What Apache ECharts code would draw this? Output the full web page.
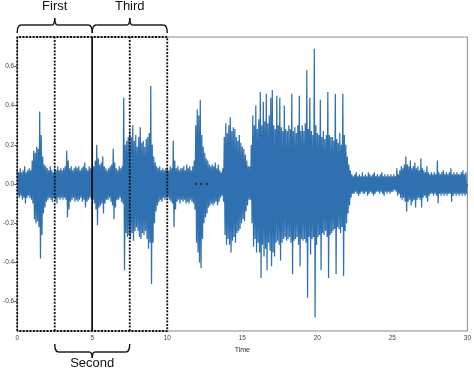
<!DOCTYPE html>
<html>
<head>
<meta charset="utf-8">
<script src="https://cdn.jsdelivr.net/npm/echarts@6/dist/echarts.min.js"></script>
<style>html,body{margin:0;padding:0;background:#fff}#c{width:474px;height:369px}</style>
</head>
<body>
<div id="c"></div>
<script>
// envelope of the waveform, one value per 0.1 s bin (upper = positive peak, lower = negative peak magnitude)
const binStep = 0.1;
const upper = [
0.07,0.06,0.08,0.06,0.07,0.09,0.06,0.07,0.08,0.07,
0.12,0.17,0.16,0.19,0.18,0.37,0.25,0.14,0.10,0.09,
0.08,0.07,0.09,0.07,0.06,0.08,0.07,0.09,0.07,0.08,
0.07,0.08,0.09,0.17,0.12,0.08,0.09,0.07,0.08,0.09,
0.08,0.09,0.07,0.08,0.09,0.11,0.08,0.07,0.09,0.08,
0.08,0.09,0.12,0.20,0.13,0.10,0.11,0.14,0.09,0.08,
0.07,0.08,0.09,0.10,0.18,0.11,0.08,0.07,0.09,0.08,
0.09,0.44,0.20,0.22,0.24,0.27,0.24,0.30,0.22,0.25,
0.19,0.24,0.29,0.21,0.22,0.19,0.23,0.24,0.26,0.50,
0.20,0.14,0.11,0.09,0.08,0.09,0.07,0.08,0.07,0.08,
0.08,0.07,0.09,0.08,0.22,0.12,0.08,0.09,0.07,0.08,
0.08,0.09,0.07,0.10,0.08,0.09,0.07,0.09,0.12,0.30,
0.38,0.35,0.43,0.25,0.19,0.16,0.13,0.12,0.10,0.09,
0.10,0.09,0.11,0.08,0.10,0.07,0.06,0.08,0.24,0.31,
0.26,0.30,0.34,0.27,0.29,0.28,0.24,0.22,0.25,0.21,
0.19,0.18,0.15,0.12,0.09,0.09,0.20,0.35,0.30,0.40,
0.28,0.33,0.47,0.30,0.42,0.32,0.46,0.31,0.35,0.44,
0.48,0.30,0.28,0.45,0.30,0.44,0.29,0.27,0.40,0.28,
0.27,0.30,0.28,0.46,0.27,0.29,0.26,0.30,0.45,0.27,
0.30,0.27,0.31,0.58,0.28,0.44,0.27,0.25,0.69,0.30,
0.26,0.25,0.43,0.24,0.27,0.23,0.25,0.47,0.25,0.24,
0.24,0.22,0.46,0.23,0.21,0.26,0.20,0.46,0.25,0.20,
0.14,0.10,0.07,0.05,0.04,0.05,0.06,0.04,0.05,0.04,
0.06,0.04,0.05,0.04,0.06,0.05,0.04,0.05,0.06,0.04,
0.05,0.04,0.05,0.06,0.04,0.05,0.04,0.05,0.04,0.05,
0.04,0.05,0.04,0.08,0.05,0.07,0.09,0.08,0.10,0.14,
0.10,0.09,0.12,0.08,0.09,0.11,0.08,0.09,0.07,0.13,
0.08,0.07,0.06,0.09,0.06,0.05,0.06,0.05,0.06,0.05,
0.12,0.06,0.05,0.06,0.07,0.05,0.06,0.05,0.06,0.08,
0.05,0.06,0.05,0.06,0.05,0.05,0.06,0.07,0.05,0.06
];
const lower = [
0.06,0.07,0.06,0.08,0.07,0.10,0.07,0.06,0.07,0.08,
0.10,0.18,0.20,0.19,0.22,0.38,0.26,0.15,0.12,0.09,
0.08,0.07,0.08,0.09,0.07,0.08,0.10,0.07,0.08,0.07,
0.08,0.07,0.08,0.17,0.13,0.09,0.08,0.07,0.09,0.08,
0.09,0.08,0.07,0.09,0.08,0.12,0.09,0.08,0.07,0.08,
0.08,0.10,0.13,0.21,0.12,0.11,0.10,0.15,0.10,0.08,
0.08,0.07,0.09,0.11,0.18,0.12,0.08,0.08,0.07,0.09,
0.10,0.44,0.25,0.27,0.26,0.28,0.25,0.29,0.24,0.22,
0.24,0.27,0.28,0.25,0.26,0.24,0.28,0.33,0.30,0.51,
0.30,0.20,0.14,0.11,0.09,0.08,0.09,0.07,0.08,0.07,
0.07,0.08,0.09,0.10,0.22,0.13,0.09,0.08,0.10,0.08,
0.09,0.08,0.10,0.09,0.10,0.08,0.09,0.10,0.13,0.30,
0.35,0.40,0.43,0.28,0.20,0.17,0.15,0.12,0.11,0.10,
0.11,0.10,0.09,0.11,0.09,0.07,0.06,0.09,0.26,0.31,
0.28,0.31,0.35,0.29,0.27,0.30,0.25,0.24,0.23,0.20,
0.18,0.19,0.14,0.11,0.08,0.08,0.20,0.32,0.28,0.35,
0.30,0.35,0.48,0.31,0.37,0.33,0.44,0.30,0.34,0.42,
0.35,0.37,0.30,0.29,0.31,0.39,0.30,0.28,0.27,0.29,
0.28,0.27,0.30,0.46,0.29,0.28,0.27,0.31,0.42,0.28,
0.29,0.28,0.30,0.58,0.27,0.36,0.28,0.27,0.68,0.31,
0.27,0.26,0.44,0.25,0.26,0.24,0.27,0.48,0.26,0.25,
0.24,0.23,0.46,0.22,0.23,0.25,0.22,0.47,0.24,0.20,
0.15,0.11,0.07,0.05,0.05,0.04,0.05,0.06,0.05,0.04,
0.05,0.05,0.04,0.06,0.05,0.04,0.05,0.06,0.05,0.04,
0.04,0.05,0.04,0.05,0.06,0.04,0.05,0.04,0.05,0.04,
0.04,0.03,0.04,0.06,0.05,0.07,0.08,0.07,0.09,0.14,
0.09,0.08,0.11,0.09,0.08,0.12,0.08,0.07,0.08,0.12,
0.07,0.06,0.07,0.09,0.06,0.05,0.05,0.06,0.05,0.06,
0.10,0.05,0.06,0.05,0.06,0.05,0.06,0.05,0.05,0.09,
0.06,0.05,0.06,0.05,0.06,0.05,0.06,0.05,0.06,0.05
];
const xTicks = [0, 5, 10, 15, 20, 25, 30];
const yTicks = [-0.6, -0.4, -0.2, 0.0, 0.2, 0.4, 0.6];
const yRange = [-0.75, 0.75];
const windows = [
  {name: 'First', start: 0, end: 5, side: 'top'},
  {name: 'Second', start: 2.5, end: 7.5, side: 'bottom'},
  {name: 'Third', start: 5, end: 10, side: 'top'}
];
const ellipsisTimes = [11.92, 12.26, 12.63];

const wave = [];
for (let i = 0; i < upper.length; i++) {
  wave.push([i * binStep, upper[i]]);
  wave.push([i * binStep + binStep / 2, -lower[i]]);
}

const chart = echarts.init(document.getElementById('c'), null, {renderer: 'canvas'});
const frameStyle = {color: '#111', width: 1.8, type: [2, 1.4]};
const frameSeries = [];
const outerStart = Math.min(...windows.map(w => w.start));
const outerEnd = Math.max(...windows.map(w => w.end));
frameSeries.push({
  type: 'line', silent: true, symbol: 'none', z: 5, clip: false,
  lineStyle: frameStyle,
  data: [[outerStart, yRange[0]], [outerStart, yRange[1]], [outerEnd, yRange[1]], [outerEnd, yRange[0]], [outerStart, yRange[0]]]
});
windows.forEach(w => {
  [w.start, w.end].forEach(t => {
    if (t === outerStart || t === outerEnd) return;
    const shared = windows.filter(o => o.start === t || o.end === t).length > 1;
    frameSeries.push({
      type: 'line', silent: true, symbol: 'none', z: 5, clip: false,
      lineStyle: shared ? {color: '#111', width: 1.5, type: 'solid'} : frameStyle,
      data: [[t, yRange[0]], [t, yRange[1]]]
    });
  });
});

chart.setOption({
  animation: false,
  backgroundColor: '#fff',
  grid: {left: 17, right: 5, top: 37, bottom: 38, show: true, borderColor: '#8a8a8a', borderWidth: 1},
  xAxis: {
    type: 'value', min: 0, max: 30, interval: 5,
    name: 'Time', nameLocation: 'middle', nameGap: 15,
    nameTextStyle: {fontSize: 7, color: '#333', fontFamily: 'Liberation Sans'},
    axisLine: {show: true, lineStyle: {color: '#8a8a8a'}},
    axisTick: {show: true, length: 3, lineStyle: {color: '#666'}},
    axisLabel: {fontSize: 6.5, color: '#444', margin: 4, fontFamily: 'Liberation Sans', formatter: v => String(v)},
    splitLine: {show: false}
  },
  yAxis: {
    type: 'value', min: yRange[0], max: yRange[1],
    axisLine: {show: true, lineStyle: {color: '#8a8a8a'}},
    axisTick: {show: true, length: 3, customValues: yTicks, lineStyle: {color: '#666'}},
    axisLabel: {fontSize: 6.5, color: '#444', margin: 3, fontFamily: 'Liberation Sans', customValues: yTicks, formatter: v => v.toFixed(1)},
    splitLine: {show: false}
  },
  series: [
    {
      type: 'line', name: 'wave', data: wave, symbol: 'none', sampling: null,
      lineStyle: {color: '#2f70b0', width: 1.25}, z: 2, silent: true
    },
    ...frameSeries,
    {
      type: 'scatter', data: ellipsisTimes.map(t => [t, 0]), symbol: 'circle', symbolSize: 2.4,
      itemStyle: {color: '#1b2330'}, z: 6, silent: true
    }
  ]
});

// braces with labels
const graphics = [];
const gridTopPx = chart.convertToPixel({gridIndex: 0}, [0, yRange[1]])[1];
const gridBotPx = chart.convertToPixel({gridIndex: 0}, [0, yRange[0]])[1];
const braceStyle = {stroke: '#111', lineWidth: 1.4, fill: null};
function curve(x1, y1, x2, y2, cx, cy) {
  graphics.push({type: 'bezierCurve', shape: {x1, y1, x2, y2, cpx1: cx, cpy1: cy}, style: braceStyle, z: 10, silent: true});
}
function seg(x1, y1, x2, y2) {
  graphics.push({type: 'line', shape: {x1, y1, x2, y2}, style: braceStyle, z: 10, silent: true});
}
windows.forEach(w => {
  const x1 = chart.convertToPixel({gridIndex: 0}, [w.start, 0])[0];
  const x2 = chart.convertToPixel({gridIndex: 0}, [w.end, 0])[0];
  const xm = (x1 + x2) / 2;
  let yb, d, t, ty;
  if (w.side === 'top') {
    yb = gridTopPx - 12; d = 8; t = -7; ty = gridTopPx - 31;
  } else {
    yb = gridBotPx + 21; d = -8; t = 6; ty = gridBotPx + 32;
  }
  curve(x1, yb + d, x1 + 4, yb, x1, yb);
  seg(x1 + 4, yb, xm - 3, yb);
  curve(xm - 3, yb, xm, yb + t, xm, yb);
  curve(xm, yb + t, xm + 3, yb, xm, yb);
  seg(xm + 3, yb, x2 - 4, yb);
  curve(x2 - 4, yb, x2, yb + d, x2, yb);
  graphics.push({type: 'text', x: xm, y: ty, style: {text: w.name, fontSize: 13, fontFamily: 'Liberation Sans', fill: '#111', textAlign: 'center', textVerticalAlign: 'middle'}, z: 10, silent: true});
});
chart.setOption({graphic: graphics});
</script>
</body>
</html>
